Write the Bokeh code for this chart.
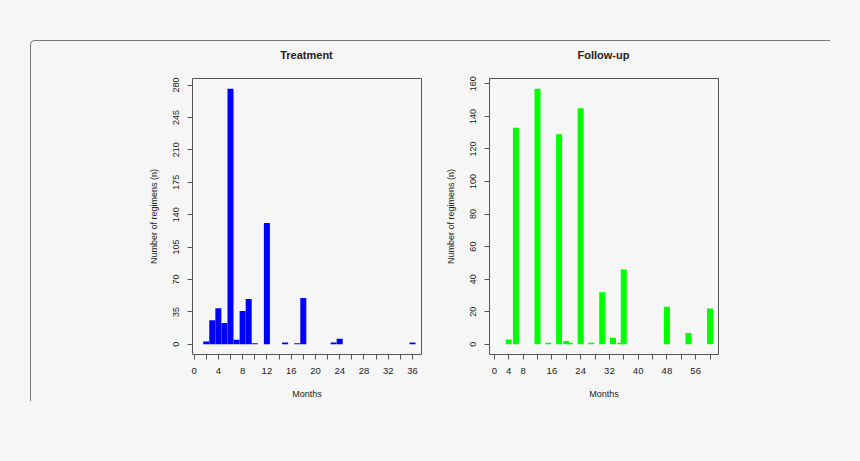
from bokeh.plotting import figure
from bokeh.models import Range1d, FixedTicker, Spacer, GlobalInlineStyleSheet, ColumnDataSource, Div
from bokeh.layouts import row, column
from bokeh.embed import file_html
from bokeh.resources import INLINE

# ---- data ----
treat_months = [2, 3, 4, 5, 6, 7, 8, 9, 10, 12, 15, 17, 18, 23, 24, 36]
treat_counts = [3, 26, 39, 23, 276, 5, 36, 49, 1, 131, 2, 1, 50, 2, 6, 2]

follow_months = [4, 6, 12, 15, 18, 20, 21, 24, 27, 30, 33, 35, 36, 48, 54, 60]
follow_counts = [3, 133, 157, 1, 129, 2, 1, 145, 1, 32, 4, 1, 46, 23, 7, 22]

treat_xticks = list(range(0, 37, 2))
treat_xlabels = ["0", "4", "8", "12", "16", "20", "24", "28", "32", "36"]
treat_yticks = [0, 35, 70, 105, 140, 175, 210, 245, 280]

follow_xticks = list(range(0, 61, 4))
follow_xlabels = ["0", "4", "8", "16", "24", "32", "40", "48", "56"]
follow_yticks = [0, 20, 40, 60, 80, 100, 120, 140, 160]

titles = ["Treatment", "Follow-up"]

BG = "#f6f6f6"
FONT = "Liberation Sans"
LINE = "#555555"
TEXT = "#222222"


def make_panel(months, counts, color, xr, yr, xticks, xlabels, yticks,
               width, left, right):
    p = figure(width=width, height=338, x_range=Range1d(*xr), y_range=Range1d(*yr),
               output_backend="svg", toolbar_location=None,
               min_border_left=left, min_border_right=right,
               min_border_top=15, min_border_bottom=47,
               background_fill_color=BG, border_fill_color=BG,
               outline_line_color=LINE, outline_line_width=1)
    src = ColumnDataSource(dict(x=months, y=counts))
    p.segment(x0="x", y0=0, x1="x", y1="y", source=src, line_width=6,
              line_color=color, line_cap="butt")
    p.grid.visible = False

    for ax in (p.xaxis[0], p.yaxis[0]):
        ax.axis_line_color = None
        ax.major_tick_line_color = LINE
        ax.major_tick_in = 0
        ax.major_tick_out = 5
        ax.minor_tick_line_color = None
        ax.major_label_text_font = FONT
        ax.major_label_text_color = TEXT
        ax.axis_label_text_font = FONT
        ax.axis_label_text_font_style = "normal"
        ax.axis_label_text_font_size = "9px"
        ax.axis_label_text_color = TEXT

    xa = p.xaxis[0]
    xa.ticker = FixedTicker(ticks=xticks)
    xa.major_label_overrides = {t: (str(t) if str(t) in xlabels else "") for t in xticks}
    xa.major_label_text_font_size = "9.5px"
    xa.major_label_standoff = 8
    xa.axis_label = "Months"
    xa.axis_label_standoff = 12

    ya = p.yaxis[0]
    ya.ticker = FixedTicker(ticks=yticks)
    ya.major_label_orientation = "vertical"
    ya.major_label_text_font_size = "9px"
    ya.major_label_standoff = 8
    ya.axis_label = "Number of regimens (n)"
    ya.axis_label_standoff = 12
    return p


def make_title(text, width, left):
    html = ('<div style="padding-top:8px;text-align:center;width:229px;margin-left:%dpx;'
            'font-family:\'Liberation Sans\';font-size:11px;font-weight:bold;'
            'line-height:13px;color:%s;">%s</div>' % (left, TEXT, text))
    return Div(text=html, width=width, height=22, margin=0)


p1 = make_panel(treat_months, treat_counts, "#0000ff",
                (-0.26, 37.48), (-11.04, 287.04),
                treat_xticks, treat_xlabels, treat_yticks,
                width=409, left=161, right=19)
p2 = make_panel(follow_months, follow_counts, "#00ff00",
                (-1.36, 62.36), (-6.28, 163.28),
                follow_xticks, follow_xlabels, follow_yticks,
                width=390, left=49, right=112)

t1 = make_title(titles[0], 409, 161)
t2 = make_title(titles[1], 390, 49)

framed = column(row(t1, t2), row(p1, p2), styles={
    "border-top": "1px solid #777777",
    "border-left": "1px solid #777777",
    "border-top-left-radius": "5px",
    "background-color": BG,
})

root = column(Spacer(height=40, width=10),
              row(Spacer(width=30, height=10), framed),
              styles={"background-color": BG})
root.stylesheets = [GlobalInlineStyleSheet(css="html, body { background-color: #f6f6f6; }")]

open("out.html", "w").write(file_html(root, INLINE))
